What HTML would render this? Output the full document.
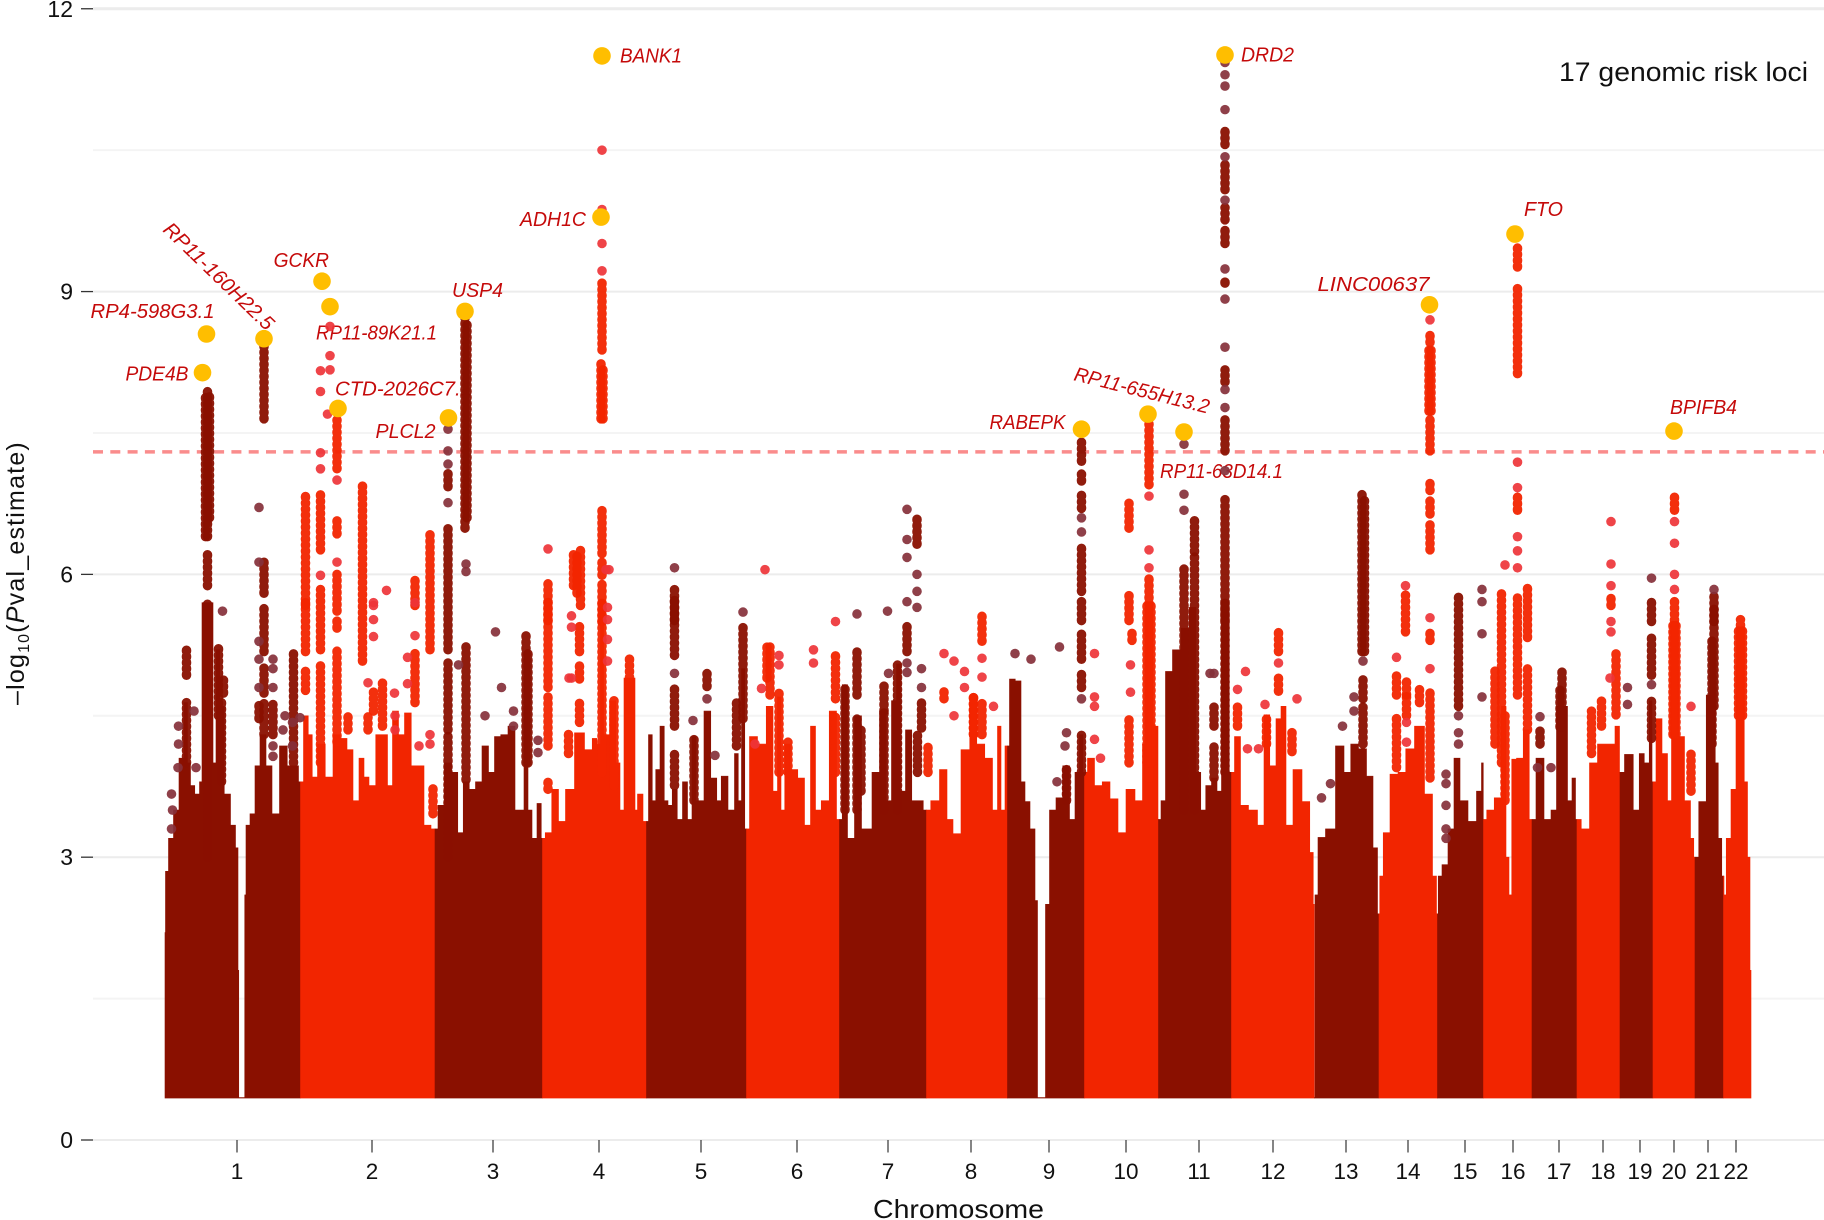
<!DOCTYPE html>
<html lang="en">
<head>
<meta charset="utf-8">
<title>Manhattan plot – 17 genomic risk loci</title>
<style>
html,body{margin:0;padding:0;background:#fff;}
svg{display:block;font-family:"Liberation Sans",sans-serif;}
</style>
</head>
<body>
<svg id="chart" xmlns="http://www.w3.org/2000/svg" width="1824" height="1220" viewBox="0 0 1824 1220">
  <g id="grid"></g>
  <g id="y-axis"></g>
  <g id="threshold"></g>
  <g id="labels"></g>
  <g id="mass"></g>
  <g id="streaks"></g>
  <g id="dots"></g>
  <g id="loci"></g>
  <g id="x-axis"></g>
  <text x="1559" y="81" font-size="27" textLength="249" lengthAdjust="spacingAndGlyphs" fill="#111">17 genomic risk loci</text>
  <text x="873" y="1218" font-size="26" textLength="171" lengthAdjust="spacingAndGlyphs" fill="#111">Chromosome</text>
  <text transform="translate(24,705) rotate(-90)" font-size="25" letter-spacing="1.2" fill="#111">&#8211;log<tspan font-size="16" dy="5">10</tspan><tspan dy="-5">(</tspan><tspan font-style="italic">P</tspan>val_estimate)</text>
</svg>
<script>
// ---- Axis values ----
const chromosomes = ['1','2','3','4','5','6','7','8','9','10','11','12','13','14','15','16','17','18','19','20','21','22'];
// cumulative genome position (Mb-like units) at each chromosome end
const chromosomeEnds = [271,540,755,963,1163,1349,1523,1685,1839,1987,2133,2299,2428,2545,2637,2734,2824,2910,2976,3060,3117,3172];
const tickPositions = [144,414,656,868,1072,1264,1446,1612,1768,1922,2068,2216,2362,2486,2600,2696,2788,2876,2950,3018,3086,3142];
const yTickValues = [0,3,6,9,12];
const gridValues = [0,1.5,3,4.5,6,7.5,9,10.5,12];
const thresholdValue = 7.3;
const baselineValue = 0.445;

// ---- Dense mass envelope: position and top -log10(P) ----
const massPositions = [
0,2,12,22,34,42,48,54,65,73,75,95,97,107,112,125,137,145,147,148,159,160,164,176,184,196,208,220,238,251,263,271,
283,290,299,311,330,342,358,370,382,394,402,414,429,441,449,461,473,485,500,512,524,540,
552,566,580,591,602,615,627,641,653,665,678,694,706,714,722,730,738,750,755,
766,781,793,809,829,849,860,868,874,880,898,905,915,917,919,939,941,949,963,
971,978,985,995,1002,1010,1019,1030,1040,1050,1058,1066,1072,1084,1099,1108,1117,1135,1143,1150,1156,1163,
1175,1195,1210,1222,1228,1236,1243,1258,1273,1285,1297,1305,1320,1337,1349,
1360,1370,1388,1398,1408,1420,1438,1447,1459,1467,1475,1487,1500,1510,1523,
1540,1558,1570,1582,1602,1617,1630,1649,1661,1669,1675,1685,
1693,1708,1716,1724,1736,1744,1746,1760,1762,1776,1788,1803,1815,1825,1833,1839,
1851,1867,1882,1898,1914,1930,1950,1960,1968,1976,1985,1987,
1997,2005,2025,2040,2056,2068,2075,2088,2098,2110,2116,2124,2133,
2145,2157,2177,2193,2203,2216,2228,2236,2248,2264,2284,2295,2298,2299,
2301,2311,2331,2351,2365,2378,2396,2410,2422,2428,
2431,2442,2458,2474,2489,2509,2529,2541,2545,
2548,2560,2572,2584,2596,2616,2630,2636,
2637,2650,2667,2679,2685,2691,2696,2710,2723,2734,
2750,2766,2778,2788,2800,2810,2818,2824,
2841,2857,2873,2892,2908,2910,
2928,2945,2952,2965,2972,2976,
2988,3000,3010,3016,3024,3031,3047,3055,3060,
3075,3090,3098,3103,3110,3117,
3119,3126,3138,3146,3155,3162,3168,3172
];
const massTops = [
2.2,2.85,3.2,3.5,4.05,4.64,4,3.76,3.67,3.8,5.7,5.7,4,5.2,4.6,3.67,3.34,3.1,1.8,0.45,0.45,2.6,3.34,3.46,3.97,4.3,3.97,3.46,4.18,3.97,3.97,3.8,
4.5,4.3,3.85,4.2,3.85,4.3,4.26,4.14,3.6,4.05,3.85,3.76,4.3,4.3,3.76,4.55,4.3,4.53,3.97,3.97,3.34,3.3,
3.55,4,3.9,3.26,3.8,3.72,3.8,4.18,3.9,4.28,4.3,4.39,3.5,3.5,4.6,3.5,3.2,3.57,3.2,
3.26,3.72,3.38,3.72,4.32,4.14,4.26,4.2,5.6,4.3,4.66,4,3.5,3.5,4.9,4.9,3.5,3.67,3.38,
4.3,3.6,3.93,4.39,3.6,3.55,3.72,3.4,3.8,3.4,4.28,3.6,3.6,4.55,3.84,3.6,3.86,3.5,4.1,3.6,5,3.3,
4.28,4.2,4.6,3.7,4.7,3.5,4.2,3.93,3.84,3.34,4.39,3.5,3.6,4.55,3.4,
4.83,3.2,4.5,3.3,3.3,3.9,4.55,3.6,4.66,5.05,3.7,4.35,3.6,3.6,3.5,
3.6,3.93,3.4,3.25,4.14,4.72,4.2,4.05,3.5,4.39,3.5,4.18,
4.89,4.87,3.8,3.59,3.3,2.54,0.45,0.45,2.5,3.5,3.63,3.97,3.4,3.9,4.3,3.9,
4.05,3.76,3.8,3.62,3.26,3.72,3.6,4.2,5.5,4.4,4.39,3.4,
3.6,4.97,5.2,5.43,5.65,3.9,3.5,3.76,3.84,3.7,5.6,5.6,3.9,
4.28,3.55,3.5,3.34,4.51,3.97,4.47,4.6,3.34,3.93,3.59,3.05,2.5,0.45,
2.6,3.21,3.3,4.18,3.9,4.2,4.15,3.86,3.1,2.4,
2.8,3.26,3.88,3.9,4.15,4.39,3.67,2.8,2.4,
2.8,2.92,3.3,4.05,3.6,3.38,3.7,4,
3.4,3.5,3.63,4.6,3,2.6,4.04,4.05,4.35,3.4,
4.05,3.4,3.5,4.6,4.6,3.6,3.84,3.4,
3.3,4,4.2,4.2,4.39,3.9,
4.09,3.5,4.1,4,4.66,3.8,
4.47,4.1,3.6,5,5,4.28,3.6,3.2,3,
3.59,4.72,5.3,4,3.2,2.8,
2.6,3.2,3.72,5,5,3.8,3,1.8
];

// ---- Dense vertical runs of variants: position, lowest and highest value ----
const streakPositions = [
85,85,85,81,89,198,198,198,198,198,188,216,257,43,43,107,117,113,
281,281,281,311,311,311,344,344,344,344,344,395,417,500,500,530,435,366,406,536,
566,566,566,566,600,604,602,722,726,
874,872,876,874,874,874,874,766,766,766,766,817,831,824,829,829,829,807,898,
1019,1019,1019,1019,1084,1156,1143,1058,
1210,1204,1341,1341,
1384,1504,1484,1513,1505,1438,
1634,1634,1558,1617,
1833,1833,1833,1833,1833,1833,1833,1833,
1928,1928,1934,1928,1968,1968,1964,1972,
2038,2059,2059,2120,2120,2120,2120,2120,2120,2120,2120,2120,2098,2098,
2227,2227,2203,2145,2254,
2394,2399,2396,2396,
2530,2528,2532,2530,2530,2530,2530,2530,2530,2481,2463,2463,2483,2483,2509,
2587,
2705,2705,2705,2705,2673,2725,2725,
2750,2794,2790,
2892,2902,2873,2853,
2973,2973,2973,
3019,3019,3016,3022,3052,
3098,3098,3094,
3147,3155,3151,
929,1228,1360,1384,1392,1438,1465,1526,1617,1803,1246,2660,2680
];
const streakLows = [
6.4,5.88,3,6.4,6.6,7.65,5.8,5.18,4.74,4.3,4.47,4.3,4,4.93,4,4.5,4.74,3.8,
5.67,5.18,4.77,6.26,5.2,4,7.12,6.43,5.61,5.43,4.22,5.08,4.55,5.67,4.64,5.2,4.39,4.35,4.35,3.46,
6.93,5.2,4.35,3,6.49,6.6,3.82,4,4,
8.38,7.65,7.65,6.22,5.99,5.5,3.9,5.51,4.8,4.18,3.72,5.88,5.67,5.8,5.18,4.89,4.43,4.1,3.76,
5.51,5.14,4.39,3.76,4.81,4.47,4.18,3.6,
4.72,4.9,4.68,3.9,
4.72,6.32,5.18,4.37,3.9,4.55,
5.29,4.3,4.68,4.3,
7.2,6.99,6.7,5.82,5.51,5.1,4.8,3.9,
6.49,5.51,5.3,4,6.95,3.84,4,4,
3.5,6.24,3.5,10.56,10.08,9.76,9.51,9.09,8.04,7.31,5.51,3.9,4.39,3.84,
5.18,4.76,4.2,4.39,4.12,
5.18,5.18,4.68,4.2,
8.46,7.73,7.73,7.31,6.89,6.64,6.26,5.3,3.84,5.39,4.72,3.95,4.72,4.5,4.64,
4.6,
9.26,8.13,6.68,4.72,4,5.33,4.35,
4.2,4.38,4.38,
5.67,4.51,4.39,4.1,
5.5,4.93,4.26,
6.68,4.3,4.3,4.3,3.7,
5.5,4.6,4.2,
4.5,4.5,4.5,
4.9,3.9,3.5,3.5,3.7,3.5,3.5,3.9,4.3,3.6,3.9,4.2,3.6
];
const streakHighs = [
7.96,6.26,5.7,7.9,7.9,8.42,6.13,5.67,5.04,4.64,4.64,4.62,5.2,5.2,4.64,5.25,4.93,4.64,
6.83,5.73,5,6.85,5.84,5.04,7.65,6.62,6,5.52,5.23,6.97,4.79,5.97,5.18,6.43,4.89,4.51,4.51,3.76,
7.08,6.53,5.06,4.28,8.78,8.7,5.25,5.37,5.2,
9.09,8.25,8.2,6.68,6.13,5.9,5.73,5.9,5.73,4.74,3.84,6.22,6.26,6.2,5.48,5.04,4.68,4.35,4.66,
5.84,5.73,4.83,4.09,4.99,5.45,4.68,4.28,
5.23,5.25,5.16,4.5,
5.2,6.6,5.46,4.66,4.3,4.85,
5.6,4.68,4.78,4.72,
7.44,7.1,6.89,6.28,5.74,5.37,4.95,4.3,
6.79,5.82,5.4,4.5,7.6,6,5.7,5.7,
6.09,6.62,6.2,10.7,10.35,9.89,9.66,9.15,8.17,7.65,6.83,5.73,4.64,4.18,
5.41,4.93,4.51,4.6,4.34,
6.87,6.8,4.91,4.62,
8.55,8.38,8.38,7.65,7.01,6.8,6.56,5.42,4.79,5.78,4.93,4.5,4.87,4.72,4.79,
5.76,
9.49,9.05,6.83,5.76,5.84,5.86,5.04,
4.35,5,4.8,
5.76,5.2,4.7,4.55,
5.73,5.33,4.66,
6.83,5.73,5.5,5.5,4.1,
5.8,5.65,5.3,
5.4,5.4,5.52,
5.14,4.79,4.83,4.5,4.4,4.55,5.06,4.18,4.72,3.97,4.22,5,4.5
];

// ---- Isolated variants: position and value ----
const dotPositions = [
188,188,188,188,188,115,216,216,216,216,216,27,27,26,13,15,13,58,240,236,255,270,255,62,
311,311,311,311,311,330,330,330,325,344,344,417,417,417,417,443,500,500,485,485,406,459,508,530,530,460,460,
566,566,566,566,602,602,587,661,673,640,697,697,746,746,
874,874,874,874,888,882,766,813,813,813,808,885,885,885,885,
1019,1019,1084,1156,1056,1100,
1200,1180,1228,1228,1193,1297,1297,1341,
1384,1445,1447,1484,1484,1484,1484,1504,1504,1504,1484,1484,1513,1513,
1634,1634,1558,1578,1578,1599,1599,1657,
1833,1833,1833,1732,1700,1789,1784,1800,1803,
1931,1931,1968,1968,1968,1859,1859,1859,1859,1871,
2038,2038,2120,2120,2120,2120,2120,2120,2120,2120,2120,2120,2120,2098,2090,
2227,2161,2145,2264,2165,2187,2200,
2396,2355,2313,2331,2378,2378,
2530,2530,2530,2481,2463,2483,2483,
2587,2587,2587,2634,2634,2634,2634,2562,2562,2562,2562,2562,
2705,2705,2705,2705,2705,2680,
2750,2772,2745,
2892,2892,2892,2892,2892,2890,
2973,2973,2925,2925,
3019,3019,3019,3019,3052,
3098,
2120,2038
];
const dotValues = [
6.71,6.13,5.29,5.1,4.8,5.61,5.1,5,4.8,4.18,4.07,4.39,4.2,3.95,3.67,3.5,3.3,4.55,4.5,4.35,4.43,4.48,4.18,3.95,
7.29,7.12,5.99,8.16,7.94,8.63,8.32,8.17,7.7,7,6.13,5.7,5.67,5.52,5.34,5.83,5.7,5.35,5.12,4.84,4.85,4.74,4.18,4.3,4.2,4.5,4.35,
7.54,7.31,7.17,6.76,6.11,6.03,5.04,5.39,4.8,4.5,4.55,4.39,4.24,4.11,
10.5,9.87,9.51,9.22,6.05,6.05,6.27,5.56,5.44,4.9,4.9,5.65,5.52,5.31,5.08,
6.07,4.95,4.68,5.6,4.45,4.08,
6.05,4.2,5.14,5.04,4.79,5.2,5.06,5.5,
5.58,5.61,4.95,6.69,6.37,6.18,5.71,6,5.82,5.65,5.06,4.96,5,4.8,
5.11,4.91,5.16,5.08,4.5,4.97,4.8,4.6,
6.6,6.45,4.68,5.1,5.16,5.23,3.8,4.18,4.32,
5.04,4.75,6.83,6.26,6.07,5.16,4.7,4.6,4.25,4.05,
6.85,6.68,11.43,11.3,11.18,10.93,10.43,9.97,9.24,8.92,8.41,7.96,7.77,4.95,4.95,
5.06,4.97,4.78,4.68,4.15,4.15,4.62,
5.08,4.39,3.63,3.78,4.7,4.55,
8.7,5.54,5,5.88,5.12,4.43,4.22,
4.5,4.32,4.2,5.84,5.71,5.37,4.7,3.88,3.78,3.55,3.3,3.2,
7.19,6.92,6.4,6.25,6.07,6.1,
4.49,3.95,3.95,
6.56,6.11,5.88,5.5,5.39,4.9,
5.96,4.83,4.8,4.62,
6.56,6.33,6,5.84,4.6,
5.84,
7.1,7.38
];

// ---- Lead loci ----
const lociNames = ['PDE4B','RP4-598G3.1','RP11-160H22.5','GCKR','RP11-89K21.1','CTD-2026C7.1','PLCL2','USP4','ADH1C','BANK1','RABEPK','RP11-655H13.2','RP11-63D14.1','DRD2','LINC00637','FTO','BPIFB4'];
const lociPositions = [75,83,198,314,330,346,567,600,872,874,1833,1966,2038,2120,2529,2700,3018];
const lociValues = [8.14,8.55,8.5,9.11,8.84,7.76,7.66,8.79,9.79,11.5,7.54,7.7,7.51,11.51,8.86,9.61,7.52];

// ---- Label layout, kept apart from the data ----
const labelLayout = {
  'PDE4B':{dx:-14,dy:8,anchor:'end',len:63},
  'RP4-598G3.1':{dx:8,dy:-16,anchor:'end',len:124},
  'RP11-160H22.5':{dx:-102,dy:-108,anchor:'start',rot:44,len:145},
  'GCKR':{dx:7,dy:-14,anchor:'end',len:55.4},
  'RP11-89K21.1':{dx:-14,dy:33,anchor:'start',len:121},
  'CTD-2026C7.1':{dx:-3,dy:-13,anchor:'start',len:137},
  'PLCL2':{dx:-13,dy:20,anchor:'end',len:60},
  'USP4':{dx:-13,dy:-14.5,anchor:'start',len:51},
  'ADH1C':{dx:-15,dy:9,anchor:'end',len:66},
  'BANK1':{dx:18,dy:6.5,anchor:'start',len:62},
  'RABEPK':{dx:-16,dy:0,anchor:'end',len:76},
  'RP11-655H13.2':{dx:-75,dy:-34,anchor:'start',rot:14,len:138.6},
  'RP11-63D14.1':{dx:-24,dy:46,anchor:'start',len:123},
  'DRD2':{dx:16,dy:6.5,anchor:'start',len:53},
  'LINC00637':{dx:0,dy:-14,anchor:'end',len:112},
  'FTO':{dx:9,dy:-18,anchor:'start',len:39},
  'BPIFB4':{dx:-4,dy:-17,anchor:'start',len:67}
};

// ---- Scales ----
const NS = 'http://www.w3.org/2000/svg';
function xScale(pos){ return 165 + pos * 0.5; }
function yScale(v){ return 1140 - v * 94.27; }
function chromIndex(pos){
  for (let i = 0; i < chromosomeEnds.length; i++) { if (pos <= chromosomeEnds[i]) return i; }
  return chromosomeEnds.length - 1;
}
const DARK = '#8a1000', RED = '#f22500';
function chromColor(i){ return i % 2 === 0 ? DARK : RED; }
function mk(tag, parent, attrs){
  const el = document.createElementNS(NS, tag);
  for (const k in attrs) el.setAttribute(k, attrs[k]);
  parent.appendChild(el);
  return el;
}

// Grid
const gridG = document.getElementById('grid');
gridValues.forEach(function(v){
  const major = v % 3 === 0;
  const el = mk('line', gridG, {x1:93, x2:1824, y1:yScale(v), y2:yScale(v), stroke: major ? '#ececec' : '#f4f4f4', 'stroke-width': v === 12 ? 3 : 2});
  
  
});

// Y axis
const yG = document.getElementById('y-axis');
yTickValues.forEach(function(v){
  const tick = mk('line', yG, {x1:81, x2:93, y1:yScale(v), y2:yScale(v), stroke:'#333', 'stroke-width':1.3});
  
  
  const lab = mk('text', yG, {x:73, y:yScale(v) + 8, 'text-anchor':'end', 'font-size':23, fill:'#111'});
  lab.textContent = String(v);
  
  
});

// Threshold
const thr = mk('line', document.getElementById('threshold'), {x1:93, x2:1824, y1:yScale(thresholdValue), y2:yScale(thresholdValue), stroke:'#fa8c8c', 'stroke-width':3.5, 'stroke-dasharray':'10 7.3'});



// Dense mass of each chromosome, drawn as tower-like steps around each profile position
const massG = document.getElementById('mass');
chromosomes.forEach(function(name, i){
  const start = i === 0 ? 0 : chromosomeEnds[i - 1];
  const end = chromosomeEnds[i];
  const pts = [];
  massPositions.forEach(function(p, k){
    if (p >= start && p <= end) pts.push([xScale(p), yScale(massTops[k])]);
  });
  if (!pts.length) return;
  const base = yScale(baselineValue);
  let d = 'M' + pts[0][0] + ' ' + base + 'L' + pts[0][0] + ' ' + pts[0][1];
  for (let k = 1; k < pts.length; k++) {
    const mid = (pts[k - 1][0] + pts[k][0]) / 2;
    d += 'L' + mid + ' ' + pts[k - 1][1] + 'L' + mid + ' ' + pts[k][1];
  }
  d += 'L' + pts[pts.length - 1][0] + ' ' + pts[pts.length - 1][1];
  d += 'L' + pts[pts.length - 1][0] + ' ' + base + 'Z';
  const area = mk('path', massG, {d:d, fill:chromColor(i), stroke:chromColor(i), 'stroke-width':0.6});
  
  
});

// Streaks of variants: beaded like stacked points
const streakG = document.getElementById('streaks');
streakPositions.forEach(function(p, k){
  const x = xScale(p);
  const line = mk('line', streakG, {x1:x, x2:x, y1:yScale(streakLows[k]), y2:yScale(streakHighs[k]), stroke:chromColor(chromIndex(p)), 'stroke-width':9.5, 'stroke-linecap':'round', 'stroke-dasharray':'1 5', 'stroke-opacity':0.95});
  
  
});

// Isolated variants
const dotG = document.getElementById('dots');
dotPositions.forEach(function(p, k){
  const idx = chromIndex(p);
  const c = mk('circle', dotG, {cx:xScale(p), cy:yScale(dotValues[k]), r:4.8, fill: idx % 2 === 0 ? '#86303a' : '#ee3438', 'fill-opacity':0.92});
  
  
});

// Lead loci and their labels
const lociG = document.getElementById('loci');
const labelG = document.getElementById('labels');
lociNames.forEach(function(name, k){
  const cx = xScale(lociPositions[k]);
  const cy = yScale(lociValues[k]);
  const c = mk('circle', lociG, {cx:cx, cy:cy, r:8.8, fill:'#ffbe00'});
  
  
  const l = labelLayout[name];
  const tx = cx + l.dx, ty = cy + l.dy;
  const t = mk('text', labelG, {x:tx, y:ty, 'text-anchor':l.anchor, 'font-size':20, 'font-style':'italic', fill:'#c50a0a', textLength:l.len, lengthAdjust:'spacingAndGlyphs'});
  if (l.rot) t.setAttribute('transform', 'rotate(' + l.rot + ' ' + tx + ' ' + ty + ')');
  t.textContent = name;
  
  
});

// X axis
const xG = document.getElementById('x-axis');
chromosomes.forEach(function(name, i){
  const x = xScale(tickPositions[i]);
  const tick = mk('line', xG, {x1:x, x2:x, y1:1140, y2:1152.5, stroke:'#333', 'stroke-width':1.2});
  
  
  const lab = mk('text', xG, {x:x, y:1179, 'text-anchor':'middle', 'font-size':22.5, fill:'#111'});
  lab.textContent = name;
  
  
});
</script>
</body>
</html>
